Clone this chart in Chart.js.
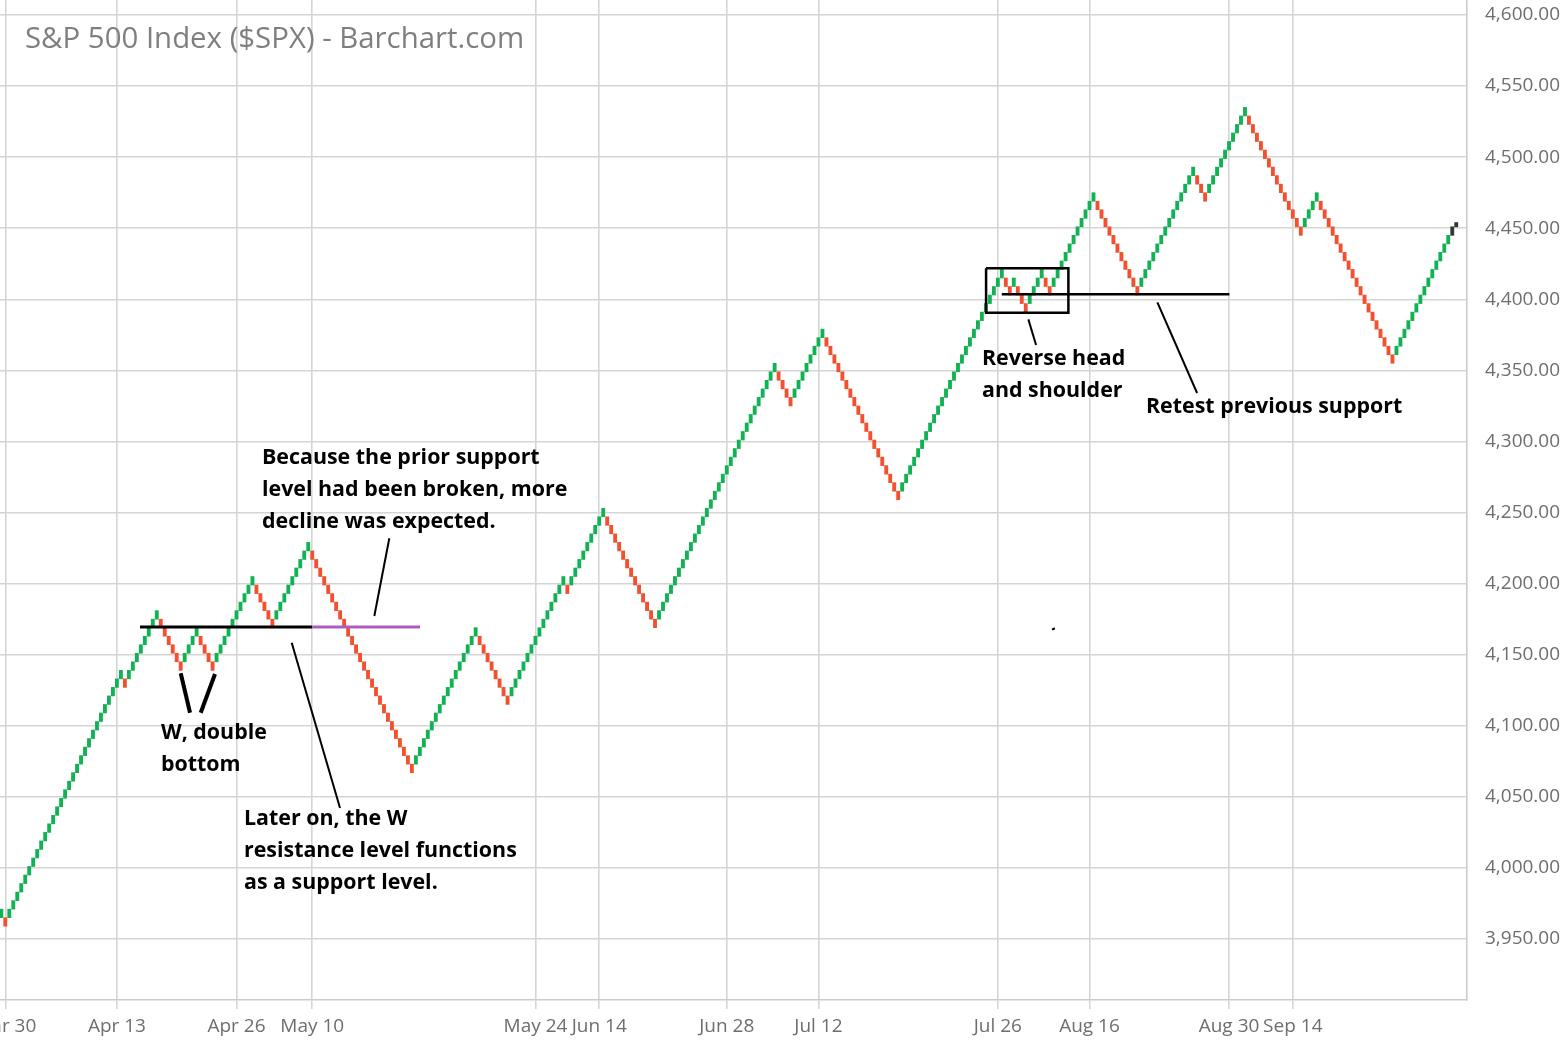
<!DOCTYPE html>
<html>
<head>
<meta charset="utf-8">
<script src="https://cdn.jsdelivr.net/npm/chart.js@4.4.1/dist/chart.umd.min.js"></script>
<style>
html,body{margin:0;padding:0;background:#fff;}
#wrap{position:relative;width:1568px;height:1043px;overflow:hidden;background:#fff;}
#c{position:absolute;left:0;top:0;}
.t{position:absolute;font-family:"Open Sans",sans-serif;white-space:nowrap;}
.title{left:25px;top:17px;font-size:29.4px;color:#7f7f7f;line-height:40px;}
.note{font-weight:700;font-size:21.4px;line-height:32px;color:#000;}
</style>
</head>
<body>
<div id="wrap">
<canvas id="c" width="1568" height="1043"></canvas>
<div class="t title">S&amp;P 500 Index ($SPX) - Barchart.com</div>
<div class="t note" style="left:262px;top:440px">Because the prior support<br>level had been broken, more<br>decline was expected.</div>
<div class="t note" style="left:161px;top:715px">W, double<br>bottom</div>
<div class="t note" style="left:244px;top:801px">Later on, the W<br>resistance level functions<br>as a support level.</div>
<div class="t note" style="left:982px;top:341px">Reverse head<br>and shoulder</div>
<div class="t note" style="left:1146px;top:389px">Retest previous support</div>
</div>
<script>
// ---- data ----
const boxSize = 6;
// closing price of the last brick of every Renko leg (alternating up / down)
const reversalCloses = [3971, 3959, 4139, 4127, 4181, 4139, 4169, 4139, 4205, 4169,
  4229, 4067, 4169, 4115, 4205, 4193, 4253, 4169, 4355, 4325, 4379, 4259, 4421,
  4403, 4415, 4391, 4421, 4403, 4475, 4403, 4493, 4469, 4535, 4445, 4475, 4355, 4451];
const lastPrice = 4454;           // current (unfinished) brick
const xTickLabels = ["Mar 30","Apr 13","Apr 26","May 10","May 24","Jun 14","Jun 28","Jul 12","Jul 26","Aug 16","Aug 30","Sep 14"];
const xTickBricks = [1, 29, 59, 78, 134, 150, 182, 205, 250, 273, 308, 324];
const yTickValues = [3950,4000,4050,4100,4150,4200,4250,4300,4350,4400,4450,4500,4550,4600];

// annotation drawings in data units [brick index, price]
const annotLines = [
  {pts:[[34.8,4169.5],[77.95,4169.5]], color:'#000000', w:3},
  {pts:[[77.95,4169.5],[105.05,4169.5]], color:'#ae5cbf', w:3},
  {pts:[[45.01,4136.9],[47.34,4109.2]], color:'#000000', w:4},
  {pts:[[53.61,4136.4],[50.02,4109.2]], color:'#000000', w:4},
  {pts:[[72.85,4158.4],[84.97,4042.1]], color:'#000000', w:2},
  {pts:[[97.34,4231.9],[93.58,4177.2]], color:'#000000', w:2},
  {pts:[[247.05,4421.8],[267.7,4421.8],[267.7,4390.6],[247.05,4390.6],[247.05,4421.8]], color:'#000000', w:2.5},
  {pts:[[250.99,4403.6],[308.09,4403.6]], color:'#000000', w:2.5},
  {pts:[[257.66,4385.9],[259.59,4367.9]], color:'#000000', w:2},
  {pts:[[290.03,4397.9],[299.99,4334.1]], color:'#000000', w:2},
  {pts:[[263.6,4167.6],[264.3,4168.6]], color:'#000000', w:2}
];

// ---- build Renko bricks from the leg closes ----
const UP = '#10b254', DOWN = '#f2502e', LAST = '#2e3b33';
const brickData = [], brickColors = [];
let prev = reversalCloses[0];
brickData.push({x:0, y:[prev - boxSize, prev]}); brickColors.push(UP);
for (let k = 1; k < reversalCloses.length; k++) {
  const target = reversalCloses[k];
  const dir = target > prev ? 1 : -1;
  const n = Math.round(Math.abs(target - prev) / boxSize) - 1;
  for (let j = 0; j < n; j++) {
    const c = prev + dir * boxSize * (2 + j);
    const o = c - dir * boxSize;
    brickData.push({x: brickData.length, y:[Math.min(o,c), Math.max(o,c)]});
    brickColors.push(dir > 0 ? UP : DOWN);
  }
  prev = target;
}
brickColors[brickColors.length - 1] = LAST;
brickData.push({x: brickData.length, y:[prev, lastPrice]}); brickColors.push(LAST);

const annotPlugin = {
  id:'annot',
  afterDatasetsDraw(chart){
    const {ctx, scales:{x, y}} = chart;
    ctx.save();
    ctx.lineCap = 'butt'; ctx.lineJoin = 'miter';
    annotLines.forEach(l => {
      ctx.beginPath();
      l.pts.forEach((p, i) => {
        const px = x.getPixelForValue(p[0]), py = y.getPixelForValue(p[1]);
        if (i === 0) ctx.moveTo(px, py); else ctx.lineTo(px, py);
      });
      ctx.strokeStyle = l.color; ctx.lineWidth = l.w; ctx.stroke();
    });
    ctx.restore();
  }
};

const gridCol = '#d5d5d5', labelCol = '#6e6e6e';
new Chart(document.getElementById('c').getContext('2d'), {
  type:'bar',
  data:{datasets:[{data:brickData, backgroundColor:brickColors, borderWidth:0, barThickness:3.2}]},
  options:{
    responsive:false, animation:false,
    layout:{padding:0},
    plugins:{legend:{display:false}, tooltip:{enabled:false}},
    scales:{
      x:{type:'linear', min:-0.33, max:367.7, offset:false,
        grid:{offset:false, color:gridCol, lineWidth:1.6, tickLength:9, drawTicks:true},
        border:{color:'#cccccc', width:1.6},
        afterBuildTicks: s => { s.ticks = xTickBricks.map(v => ({value:v})); },
        afterFit: s => { s.height = 43; s.paddingLeft = 0; s.paddingRight = 0; },
        ticks:{autoSkip:false, maxRotation:0, minRotation:0, color:labelCol,
          font:{family:'Open Sans', size:19}, padding:6,
          callback:(v, i) => xTickLabels[i]}
      },
      y:{type:'linear', position:'right', min:3907.09, max:4610.55,
        grid:{color:gridCol, lineWidth:1.6, drawTicks:false, tickLength:0},
        border:{color:'#cccccc', width:1.6},
        afterBuildTicks: s => { s.ticks = yTickValues.map(v => ({value:v})); },
        afterFit: s => { s.width = 101; s.paddingTop = 0; s.paddingBottom = 0; },
        ticks:{color:labelCol, font:{family:'Open Sans', size:19}, padding:18,
          callback: v => v.toLocaleString('en-US', {minimumFractionDigits:2, maximumFractionDigits:2})}
      }
    }
  },
  plugins:[annotPlugin]
});
</script>
</body>
</html>
